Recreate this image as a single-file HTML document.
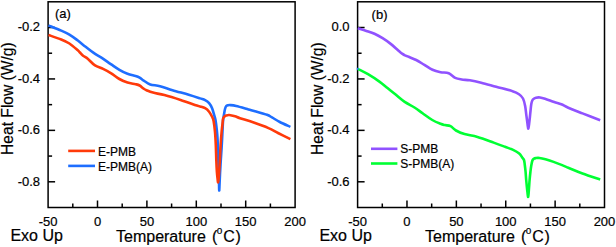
<!DOCTYPE html>
<html><head><meta charset="utf-8"><style>
html,body{margin:0;padding:0;background:#fff;}
body{width:616px;height:247px;overflow:hidden;}
svg{display:block;}
text{font-family:"Liberation Sans",sans-serif;fill:#000;stroke:#000;stroke-width:0.2px;}
.t{font-size:13px;}
.l{font-size:12px;}
.p{font-size:13px;}
.a{font-size:16px;}
</style></head><body>
<svg width="616" height="247" viewBox="0 0 616 247">
<rect x="48.10" y="1.80" width="247.00" height="205.70" fill="none" stroke="#000" stroke-width="1.5"/>
<line x1="72.80" y1="207.50" x2="72.80" y2="203.50" stroke="#000" stroke-width="1.5"/>
<line x1="97.50" y1="207.50" x2="97.50" y2="200.50" stroke="#000" stroke-width="1.5"/>
<line x1="122.20" y1="207.50" x2="122.20" y2="203.50" stroke="#000" stroke-width="1.5"/>
<line x1="146.90" y1="207.50" x2="146.90" y2="200.50" stroke="#000" stroke-width="1.5"/>
<line x1="171.60" y1="207.50" x2="171.60" y2="203.50" stroke="#000" stroke-width="1.5"/>
<line x1="196.30" y1="207.50" x2="196.30" y2="200.50" stroke="#000" stroke-width="1.5"/>
<line x1="221.00" y1="207.50" x2="221.00" y2="203.50" stroke="#000" stroke-width="1.5"/>
<line x1="245.70" y1="207.50" x2="245.70" y2="200.50" stroke="#000" stroke-width="1.5"/>
<line x1="270.40" y1="207.50" x2="270.40" y2="203.50" stroke="#000" stroke-width="1.5"/>
<line x1="48.10" y1="27.51" x2="55.10" y2="27.51" stroke="#000" stroke-width="1.5"/>
<line x1="48.10" y1="78.94" x2="55.10" y2="78.94" stroke="#000" stroke-width="1.5"/>
<line x1="48.10" y1="130.36" x2="55.10" y2="130.36" stroke="#000" stroke-width="1.5"/>
<line x1="48.10" y1="181.79" x2="55.10" y2="181.79" stroke="#000" stroke-width="1.5"/>
<line x1="48.10" y1="53.22" x2="52.10" y2="53.22" stroke="#000" stroke-width="1.5"/>
<line x1="48.10" y1="104.65" x2="52.10" y2="104.65" stroke="#000" stroke-width="1.5"/>
<line x1="48.10" y1="156.07" x2="52.10" y2="156.07" stroke="#000" stroke-width="1.5"/>
<text x="48.10" y="225.8" text-anchor="middle" class="t">-50</text>
<text x="97.50" y="225.8" text-anchor="middle" class="t">0</text>
<text x="146.90" y="225.8" text-anchor="middle" class="t">50</text>
<text x="196.30" y="225.8" text-anchor="middle" class="t">100</text>
<text x="245.70" y="225.8" text-anchor="middle" class="t">150</text>
<text x="295.10" y="225.8" text-anchor="middle" class="t">200</text>
<text x="40.10" y="31.41" text-anchor="end" class="t">-0.2</text>
<text x="40.10" y="82.84" text-anchor="end" class="t">-0.4</text>
<text x="40.10" y="134.26" text-anchor="end" class="t">-0.6</text>
<text x="40.10" y="185.69" text-anchor="end" class="t">-0.8</text>
<rect x="357.60" y="1.80" width="246.90" height="205.70" fill="none" stroke="#000" stroke-width="1.5"/>
<line x1="382.29" y1="207.50" x2="382.29" y2="203.50" stroke="#000" stroke-width="1.5"/>
<line x1="406.98" y1="207.50" x2="406.98" y2="200.50" stroke="#000" stroke-width="1.5"/>
<line x1="431.67" y1="207.50" x2="431.67" y2="203.50" stroke="#000" stroke-width="1.5"/>
<line x1="456.36" y1="207.50" x2="456.36" y2="200.50" stroke="#000" stroke-width="1.5"/>
<line x1="481.05" y1="207.50" x2="481.05" y2="203.50" stroke="#000" stroke-width="1.5"/>
<line x1="505.74" y1="207.50" x2="505.74" y2="200.50" stroke="#000" stroke-width="1.5"/>
<line x1="530.43" y1="207.50" x2="530.43" y2="203.50" stroke="#000" stroke-width="1.5"/>
<line x1="555.12" y1="207.50" x2="555.12" y2="200.50" stroke="#000" stroke-width="1.5"/>
<line x1="579.81" y1="207.50" x2="579.81" y2="203.50" stroke="#000" stroke-width="1.5"/>
<line x1="357.60" y1="27.51" x2="364.60" y2="27.51" stroke="#000" stroke-width="1.5"/>
<line x1="357.60" y1="78.94" x2="364.60" y2="78.94" stroke="#000" stroke-width="1.5"/>
<line x1="357.60" y1="130.36" x2="364.60" y2="130.36" stroke="#000" stroke-width="1.5"/>
<line x1="357.60" y1="181.79" x2="364.60" y2="181.79" stroke="#000" stroke-width="1.5"/>
<line x1="357.60" y1="53.23" x2="361.60" y2="53.23" stroke="#000" stroke-width="1.5"/>
<line x1="357.60" y1="104.65" x2="361.60" y2="104.65" stroke="#000" stroke-width="1.5"/>
<line x1="357.60" y1="156.08" x2="361.60" y2="156.08" stroke="#000" stroke-width="1.5"/>
<text x="357.60" y="225.8" text-anchor="middle" class="t">-50</text>
<text x="406.98" y="225.8" text-anchor="middle" class="t">0</text>
<text x="456.36" y="225.8" text-anchor="middle" class="t">50</text>
<text x="505.74" y="225.8" text-anchor="middle" class="t">100</text>
<text x="555.12" y="225.8" text-anchor="middle" class="t">150</text>
<text x="604.50" y="225.8" text-anchor="middle" class="t">200</text>
<text x="349.60" y="31.41" text-anchor="end" class="t">0.0</text>
<text x="349.60" y="82.84" text-anchor="end" class="t">-0.2</text>
<text x="349.60" y="134.26" text-anchor="end" class="t">-0.4</text>
<text x="349.60" y="185.69" text-anchor="end" class="t">-0.6</text>
<path d="M48.50,25.40 C50.62,26.27 57.72,29.07 61.20,30.60 C64.68,32.13 66.68,32.98 69.40,34.60 C72.12,36.22 74.80,38.27 77.50,40.30 C80.20,42.33 82.90,44.70 85.60,46.80 C88.30,48.90 91.00,51.08 93.70,52.93 C96.40,54.78 98.88,55.99 101.80,57.90 C104.72,59.81 108.27,62.42 111.20,64.40 C114.13,66.38 116.68,68.23 119.40,69.80 C122.12,71.37 124.80,72.77 127.50,73.80 C130.20,74.83 133.58,75.37 135.60,76.00 C137.62,76.63 138.25,76.83 139.60,77.60 C140.95,78.37 141.93,79.47 143.70,80.60 C145.47,81.73 147.48,83.47 150.20,84.40 C152.92,85.33 156.28,85.23 160.00,86.20 C163.72,87.17 167.72,88.77 172.50,90.20 C177.28,91.63 184.12,93.44 188.70,94.80 C193.28,96.16 197.27,97.49 200.00,98.38 C202.73,99.26 203.58,99.31 205.10,100.10 C206.62,100.89 207.93,101.75 209.10,103.10 C210.27,104.45 211.25,106.18 212.10,108.20 C212.95,110.22 213.63,113.23 214.20,115.20 C214.77,117.17 215.07,117.53 215.50,120.00 C215.93,122.47 216.45,126.67 216.80,130.00 C217.15,133.33 217.38,135.83 217.60,140.00 C217.82,144.17 217.93,150.00 218.10,155.00 C218.27,160.00 218.45,165.50 218.60,170.00 C218.75,174.50 218.90,178.58 219.00,182.00 C219.10,185.42 219.10,190.33 219.20,190.50 C219.30,190.67 219.45,186.08 219.60,183.00 C219.75,179.92 219.90,175.83 220.10,172.00 C220.30,168.17 220.55,164.00 220.80,160.00 C221.05,156.00 221.35,152.17 221.60,148.00 C221.85,143.83 222.08,139.17 222.30,135.00 C222.52,130.83 222.72,125.83 222.90,123.00 C223.08,120.17 223.18,119.63 223.40,118.00 C223.62,116.37 223.93,114.70 224.20,113.20 C224.47,111.70 224.68,110.15 225.00,109.00 C225.32,107.85 225.60,106.92 226.10,106.30 C226.60,105.68 227.32,105.50 228.00,105.30 C228.68,105.10 228.83,104.98 230.20,105.10 C231.57,105.22 233.15,105.28 236.20,106.00 C239.25,106.72 245.37,108.53 248.50,109.40 C251.63,110.27 251.92,110.30 255.00,111.20 C258.08,112.10 264.17,113.77 267.00,114.80 C269.83,115.83 269.87,116.20 272.00,117.40 C274.13,118.60 276.73,120.42 279.80,122.00 C282.87,123.58 288.63,126.08 290.40,126.90" fill="none" stroke="#1e6eff" stroke-width="2.60" stroke-linejoin="round" stroke-linecap="butt"/>
<path d="M48.50,35.00 C50.62,35.75 57.72,38.08 61.20,39.50 C64.68,40.92 66.68,41.75 69.40,43.50 C72.12,45.25 75.75,48.50 77.50,50.00 C79.25,51.50 78.97,51.55 79.90,52.50 C80.83,53.45 81.75,54.62 83.10,55.70 C84.45,56.78 86.02,57.38 88.00,59.00 C89.98,60.62 92.48,63.78 95.00,65.43 C97.52,67.08 100.40,67.59 103.10,68.90 C105.80,70.21 108.48,71.62 111.20,73.30 C113.92,74.98 116.68,77.45 119.40,79.00 C122.12,80.55 124.80,81.73 127.50,82.60 C130.20,83.47 133.58,83.72 135.60,84.20 C137.62,84.68 138.25,84.75 139.60,85.50 C140.95,86.25 142.55,87.92 143.70,88.70 C144.85,89.48 144.95,89.55 146.50,90.20 C148.05,90.85 150.02,91.78 153.00,92.60 C155.98,93.42 159.80,93.87 164.40,95.10 C169.00,96.33 175.20,98.25 180.60,100.00 C186.00,101.75 193.57,104.52 196.80,105.60 C200.03,106.68 198.62,106.04 200.00,106.47 C201.38,106.91 203.58,107.33 205.10,108.20 C206.62,109.07 207.93,110.27 209.10,111.70 C210.27,113.13 211.35,115.25 212.10,116.80 C212.85,118.35 213.12,118.47 213.60,121.00 C214.08,123.53 214.63,128.00 215.00,132.00 C215.37,136.00 215.58,140.33 215.80,145.00 C216.02,149.67 216.12,155.50 216.30,160.00 C216.48,164.50 216.68,168.83 216.90,172.00 C217.12,175.17 217.40,177.27 217.60,179.00 C217.80,180.73 217.92,182.57 218.10,182.40 C218.28,182.23 218.50,180.07 218.70,178.00 C218.90,175.93 219.10,173.00 219.30,170.00 C219.50,167.00 219.68,164.17 219.90,160.00 C220.12,155.83 220.32,149.67 220.60,145.00 C220.88,140.33 221.27,135.67 221.60,132.00 C221.93,128.33 222.35,125.25 222.60,123.00 C222.85,120.75 222.78,119.58 223.10,118.50 C223.42,117.42 224.00,117.00 224.50,116.50 C225.00,116.00 225.32,115.75 226.10,115.50 C226.88,115.25 227.72,114.87 229.20,115.00 C230.68,115.13 233.20,115.77 235.00,116.30 C236.80,116.83 237.00,117.20 240.00,118.20 C243.00,119.20 248.25,120.65 253.00,122.30 C257.75,123.95 264.33,126.32 268.50,128.10 C272.67,129.88 274.35,131.15 278.00,133.00 C281.65,134.85 288.33,138.17 290.40,139.20" fill="none" stroke="#ff3a0a" stroke-width="2.60" stroke-linejoin="round" stroke-linecap="butt"/>
<path d="M357.80,28.20 C359.23,28.65 363.62,29.97 366.40,30.90 C369.18,31.83 371.80,32.58 374.50,33.80 C377.20,35.02 379.90,36.52 382.60,38.20 C385.30,39.88 388.27,42.01 390.70,43.90 C393.13,45.79 395.65,48.16 397.20,49.51 C398.75,50.86 399.18,51.30 400.00,51.99 C400.82,52.67 401.28,53.05 402.10,53.62 C402.92,54.19 403.82,54.87 404.90,55.39 C405.98,55.92 406.72,56.01 408.60,56.78 C410.48,57.55 413.57,58.65 416.20,60.00 C418.83,61.35 421.68,63.27 424.40,64.90 C427.12,66.53 429.80,68.58 432.50,69.80 C435.20,71.02 437.90,71.62 440.60,72.20 C443.30,72.78 446.27,72.35 448.70,73.30 C451.13,74.25 453.03,76.87 455.20,77.90 C457.37,78.93 459.27,79.10 461.70,79.50 C464.13,79.90 466.55,79.77 469.80,80.30 C473.05,80.83 476.80,81.62 481.20,82.70 C485.60,83.78 490.98,85.38 496.20,86.80 C501.42,88.22 508.70,89.97 512.50,91.20 C516.30,92.43 517.25,92.98 519.00,94.20 C520.75,95.42 521.98,96.57 523.00,98.50 C524.02,100.43 524.55,103.08 525.10,105.80 C525.65,108.52 525.92,111.93 526.30,114.80 C526.68,117.67 527.08,120.70 527.40,123.00 C527.72,125.30 527.92,128.43 528.20,128.60 C528.48,128.77 528.82,125.93 529.10,124.00 C529.38,122.07 529.65,119.33 529.90,117.00 C530.15,114.67 530.37,112.17 530.60,110.00 C530.83,107.83 531.02,105.58 531.30,104.00 C531.58,102.42 531.88,101.37 532.30,100.50 C532.72,99.63 533.18,99.27 533.80,98.80 C534.42,98.33 534.97,97.92 536.00,97.70 C537.03,97.48 538.50,97.33 540.00,97.50 C541.50,97.67 542.63,97.95 545.00,98.70 C547.37,99.45 551.48,101.08 554.20,102.00 C556.92,102.92 558.95,103.25 561.30,104.20 C563.65,105.15 564.77,106.17 568.30,107.70 C571.83,109.23 577.18,111.30 582.50,113.40 C587.82,115.50 597.25,119.15 600.20,120.30" fill="none" stroke="#9052ff" stroke-width="2.60" stroke-linejoin="round" stroke-linecap="butt"/>
<path d="M357.80,68.80 C359.50,69.70 364.40,72.04 368.00,74.17 C371.60,76.31 376.15,79.28 379.40,81.60 C382.65,83.92 384.80,85.93 387.50,88.10 C390.20,90.27 392.73,92.30 395.60,94.60 C398.47,96.90 401.55,99.75 404.70,101.90 C407.85,104.05 411.52,105.62 414.50,107.50 C417.48,109.38 419.63,111.12 422.60,113.20 C425.57,115.28 429.32,118.23 432.30,120.00 C435.28,121.77 438.38,122.95 440.50,123.80 C442.62,124.65 443.33,124.72 445.00,125.10 C446.67,125.48 448.67,125.20 450.50,126.10 C452.33,127.00 453.67,129.18 456.00,130.50 C458.33,131.82 460.92,132.98 464.50,134.04 C468.08,135.11 472.63,135.47 477.50,136.90 C482.37,138.33 489.12,140.95 493.70,142.60 C498.28,144.25 501.77,145.58 505.00,146.80 C508.23,148.02 510.73,148.78 513.10,149.90 C515.47,151.02 517.68,152.25 519.20,153.50 C520.72,154.75 521.40,156.32 522.20,157.40 C523.00,158.48 523.57,158.73 524.00,160.00 C524.43,161.27 524.53,163.00 524.80,165.00 C525.07,167.00 525.37,169.50 525.60,172.00 C525.83,174.50 525.93,177.00 526.20,180.00 C526.47,183.00 526.87,187.17 527.20,190.00 C527.53,192.83 527.90,197.33 528.20,197.00 C528.50,196.67 528.77,190.83 529.00,188.00 C529.23,185.17 529.37,182.67 529.60,180.00 C529.83,177.33 530.13,174.33 530.40,172.00 C530.67,169.67 530.87,167.92 531.20,166.00 C531.53,164.08 531.97,161.72 532.40,160.50 C532.83,159.28 533.23,159.10 533.80,158.70 C534.37,158.30 534.87,158.22 535.80,158.10 C536.73,157.98 537.78,157.80 539.40,158.00 C541.02,158.20 543.13,158.65 545.50,159.30 C547.87,159.95 549.80,160.50 553.60,161.90 C557.40,163.30 563.48,165.77 568.30,167.70 C573.12,169.63 577.18,171.52 582.50,173.50 C587.82,175.48 597.25,178.58 600.20,179.60" fill="none" stroke="#00ff33" stroke-width="2.60" stroke-linejoin="round" stroke-linecap="butt"/>
<rect x="356.8" y="67.8" width="1.6" height="2" fill="#1e6eff"/>
<line x1="68.2" y1="150.9" x2="95" y2="150.9" stroke="#ff3a0a" stroke-width="2.6"/>
<line x1="68.2" y1="165.9" x2="95" y2="165.9" stroke="#1e6eff" stroke-width="2.6"/>
<text x="98" y="155.8" class="l">E-PMB</text>
<text x="98" y="170.8" class="l">E-PMB(A)</text>
<line x1="371" y1="148.8" x2="397.4" y2="148.8" stroke="#9052ff" stroke-width="2.6"/>
<line x1="371" y1="163.5" x2="397.4" y2="163.5" stroke="#00ff33" stroke-width="2.6"/>
<text x="400.3" y="153.3" class="l">S-PMB</text>
<text x="400.3" y="168.0" class="l">S-PMB(A)</text>
<text x="54.9" y="17.9" class="p">(a)</text>
<text x="371.6" y="18.7" class="p">(b)</text>
<text x="10.40" y="240.8" class="a">Exo Up</text>
<text x="116.00" y="241.8" class="a">Temperature</text>
<text x="211.90" y="242.2" class="a">(</text>
<text x="216.80" y="234.3" style="font-size:10px">o</text>
<text x="223.20" y="242.3" class="a">C</text>
<text x="235.60" y="242.2" class="a">)</text>
<text transform="translate(13.2,98.6) rotate(-90)" text-anchor="middle" class="a" style="font-size:15.6px">Heat Flow (W/g)</text>
<text x="319.40" y="240.8" class="a">Exo Up</text>
<text x="425.00" y="241.8" class="a">Temperature</text>
<text x="520.90" y="242.2" class="a">(</text>
<text x="525.80" y="234.3" style="font-size:10px">o</text>
<text x="532.20" y="242.3" class="a">C</text>
<text x="544.60" y="242.2" class="a">)</text>
<text transform="translate(322.60,98.6) rotate(-90)" text-anchor="middle" class="a" style="font-size:15.6px">Heat Flow (W/g)</text>
</svg>
</body></html>
